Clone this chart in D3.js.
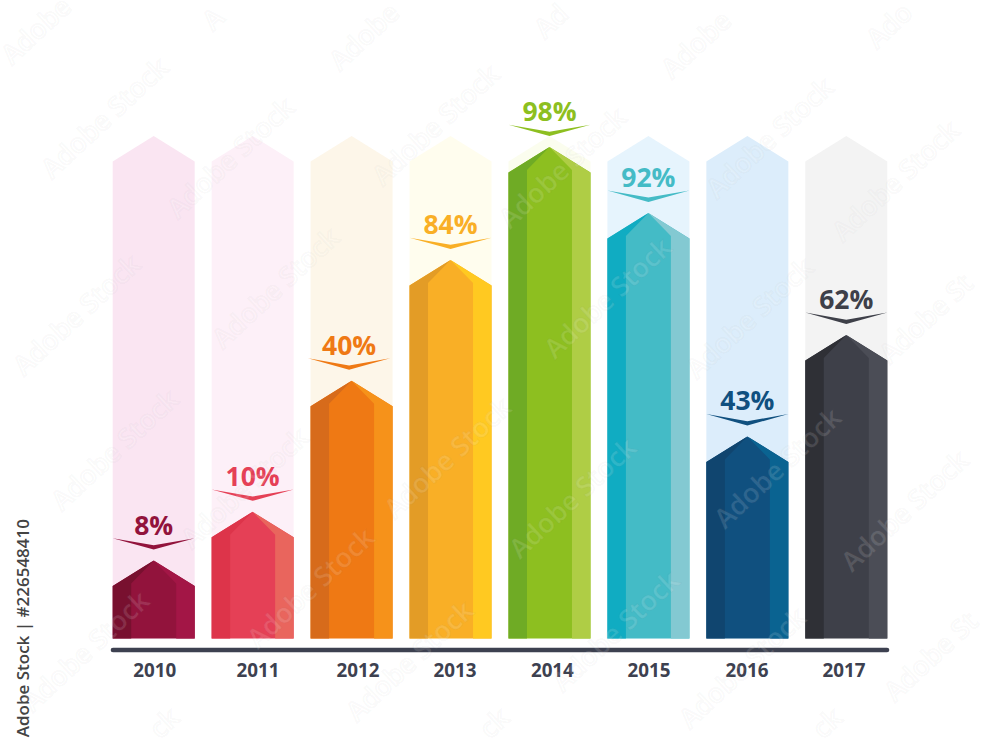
<!DOCTYPE html>
<html>
<head>
<meta charset="utf-8">
<script src="https://cdn.jsdelivr.net/npm/d3@7"></script>
<style>
  html, body {margin: 0; padding: 0; background: #fff;}
  svg {display: block;}
</style>
</head>
<body>
<div id="chart_area"></div>
<script>
// chart data
var years = ["2010", "2011", "2012", "2013", "2014", "2015", "2016", "2017"];
var labelValues = [8, 10, 40, 84, 98, 92, 43, 62];
// how high each arrow is really drawn, does not follow the printed percent
var drawnLevels = [15.5, 25.2, 51.3, 75.3, 97.8, 84.7, 40.2, 60.4];

var backColors = ["#fae5f2", "#fdf0f8", "#fdf6e9", "#fffdee", "#fbfdee", "#e6f4fd", "#dcedfb", "#f3f3f3"];
var leftColors = ["#78102f", "#dd344a", "#d76b1b", "#e39c26", "#6fab25", "#10acc2", "#10456f", "#2f3036"];
var midColors = ["#92133c", "#e54056", "#ef7914", "#f9af26", "#8dbf20", "#44bbc6", "#10507f", "#3e4049"];
var rightColors = ["#a31646", "#e9655d", "#f6921a", "#ffc921", "#afcd45", "#83c9d2", "#0a6391", "#4b4d56"];

var font = "'Open Sans', sans-serif";
var dark = "#3d4150";

var svG = d3.select("#chart_area")
    .append("svg")
    .attr("width", 1000)
    .attr("height", 756)
    .attr("font-family", font);

var x = d3.scaleBand()
    .domain(years)
    .range([112.7, 887.3])
    .paddingInner(0.1712);

var y = d3.scaleLinear()
    .domain([0, 100])
    .range([638.5, 136]);

var shoulder = 25.5;
var facet = 18.5;
var innerShoulder = 23;

var pts = function(list) {
    return list.map(function(p) {return p.join(",")}).join(" ");
};

var arrow = function(d, level) {
    var l = x(d), r = l + x.bandwidth(), c = l + x.bandwidth() / 2, top = y(level);
    return pts([[l, y(0)], [l, top + shoulder], [c, top], [r, top + shoulder], [r, y(0)]]);
};

var columns = svG.selectAll("g.column")
    .data(years)
    .enter()
    .append("g")
    .attr("class", "column");

// pale full height arrow behind
columns.append("polygon")
    .attr("fill", (d, i) => backColors[i])
    .attr("points", d => arrow(d, 100));

// main arrow, the facets go on top of it
columns.append("polygon")
    .attr("fill", (d, i) => midColors[i])
    .attr("points", (d, i) => arrow(d, drawnLevels[i]));

// left facet
columns.append("polygon")
    .attr("fill", (d, i) => leftColors[i])
    .attr("points", function(d, i) {
        var l = x(d), c = l + x.bandwidth() / 2, top = y(drawnLevels[i]);
        return pts([[l, y(0)], [l, top + shoulder], [c, top], [l + facet, top + innerShoulder], [l + facet, y(0)]]);
    });

// right facet
columns.append("polygon")
    .attr("fill", (d, i) => rightColors[i])
    .attr("points", function(d, i) {
        var r = x(d) + x.bandwidth(), c = x(d) + x.bandwidth() / 2, top = y(drawnLevels[i]);
        return pts([[r, y(0)], [r, top + shoulder], [c, top], [r - facet, top + innerShoulder], [r - facet, y(0)]]);
    });

// 2012 chevron and label sit a little left of the column
var markNudge = [0, 0, -2.5, 0, 0, 0, 0, 0];

// little chevron above the tip
columns.append("polygon")
    .attr("fill", (d, i) => midColors[i])
    .attr("points", function(d, i) {
        var l = x(d) + markNudge[i], r = l + x.bandwidth(), c = l + x.bandwidth() / 2, top = y(drawnLevels[i]);
        return pts([[l, top - 22.4], [c, top - 15.3], [r, top - 22.4], [c, top - 11]]);
    });

columns.append("text")
    .attr("x", (d, i) => x(d) + x.bandwidth() / 2 + markNudge[i])
    .attr("y", (d, i) => y(drawnLevels[i]) - 26)
    .attr("text-anchor", "middle")
    .attr("font-size", 26.5)
    .attr("font-weight", 700)
    .attr("fill", (d, i) => midColors[i])
    .text((d, i) => labelValues[i] + "%");

// axis line
svG.append("line")
    .attr("x1", 113)
    .attr("x2", 887)
    .attr("y1", 650)
    .attr("y2", 650)
    .attr("stroke", dark)
    .attr("stroke-width", 4.6)
    .attr("stroke-linecap", "round");

var axis = svG.append("g")
    .attr("transform", "translate(0,650)")
    .call(d3.axisBottom(x).tickSize(0).tickPadding(13));
axis.select(".domain").remove();

// year labels in the picture sit a bit off the column centres
var yearNudge = [1, 5.4, 6.3, 4.4, 2.9, 0.7, -0.4, -2.3];
axis.selectAll("text")
    .attr("font-family", font)
    .attr("font-size", 20)
    .attr("font-weight", 700)
    .attr("fill", dark)
    .attr("textLength", 43)
    .attr("lengthAdjust", "spacingAndGlyphs")
    .attr("dx", (d, i) => yearNudge[i]);

// stock id on the left side
svG.append("text")
    .attr("transform", "translate(29.3,519) rotate(-90)")
    .attr("text-anchor", "end")
    .attr("font-size", 17)
    .attr("font-weight", 600)
    .attr("fill", "#444")
    .text("Adobe Stock | #226548410");

// faint stamps spread over the picture: start point and the part that shows
var whole = "Adobe Stock";
var stamps = [[12, 66, "Adobe"], [213, 32, "A"], [340, 72, "Adobe"], [52, 180, whole], [178, 220, whole],
    [383, 187, whole], [24, 377, whole], [223, 350, whole],
    [545, 40, "Ad"], [672, 80, "Adobe"], [877, 50, "Ado"], [717, 200, whole], [510, 230, whole],
    [843, 243, whole], [555, 360, whole], [697, 380, whole], [890, 365, "Adobe St"],
    [62, 512, whole], [192, 550, whole], [33, 713, whole], [258, 650, whole], [357, 723, whole], [395, 520, whole],
    [160, 740, "ck"], [520, 560, whole], [725, 530, whole], [852, 573, whole], [563, 693, whole], [690, 730, whole],
    [895, 703, "Adobe St"], [490, 740, "ck"], [823, 740, "ck"]];

svG.append("g")
    .attr("font-size", 27)
    .attr("font-weight", 600)
    .attr("fill", "#fff")
    .attr("fill-opacity", 0.13)
    .attr("stroke", "#777")
    .attr("stroke-opacity", 0.04)
    .attr("stroke-width", 2)
    .selectAll("text")
    .data(stamps)
    .enter()
    .append("text")
    .attr("transform", d => "translate(" + d[0] + "," + d[1] + ") rotate(-43)")
    .text(d => d[2]);
</script>
</body>
</html>
